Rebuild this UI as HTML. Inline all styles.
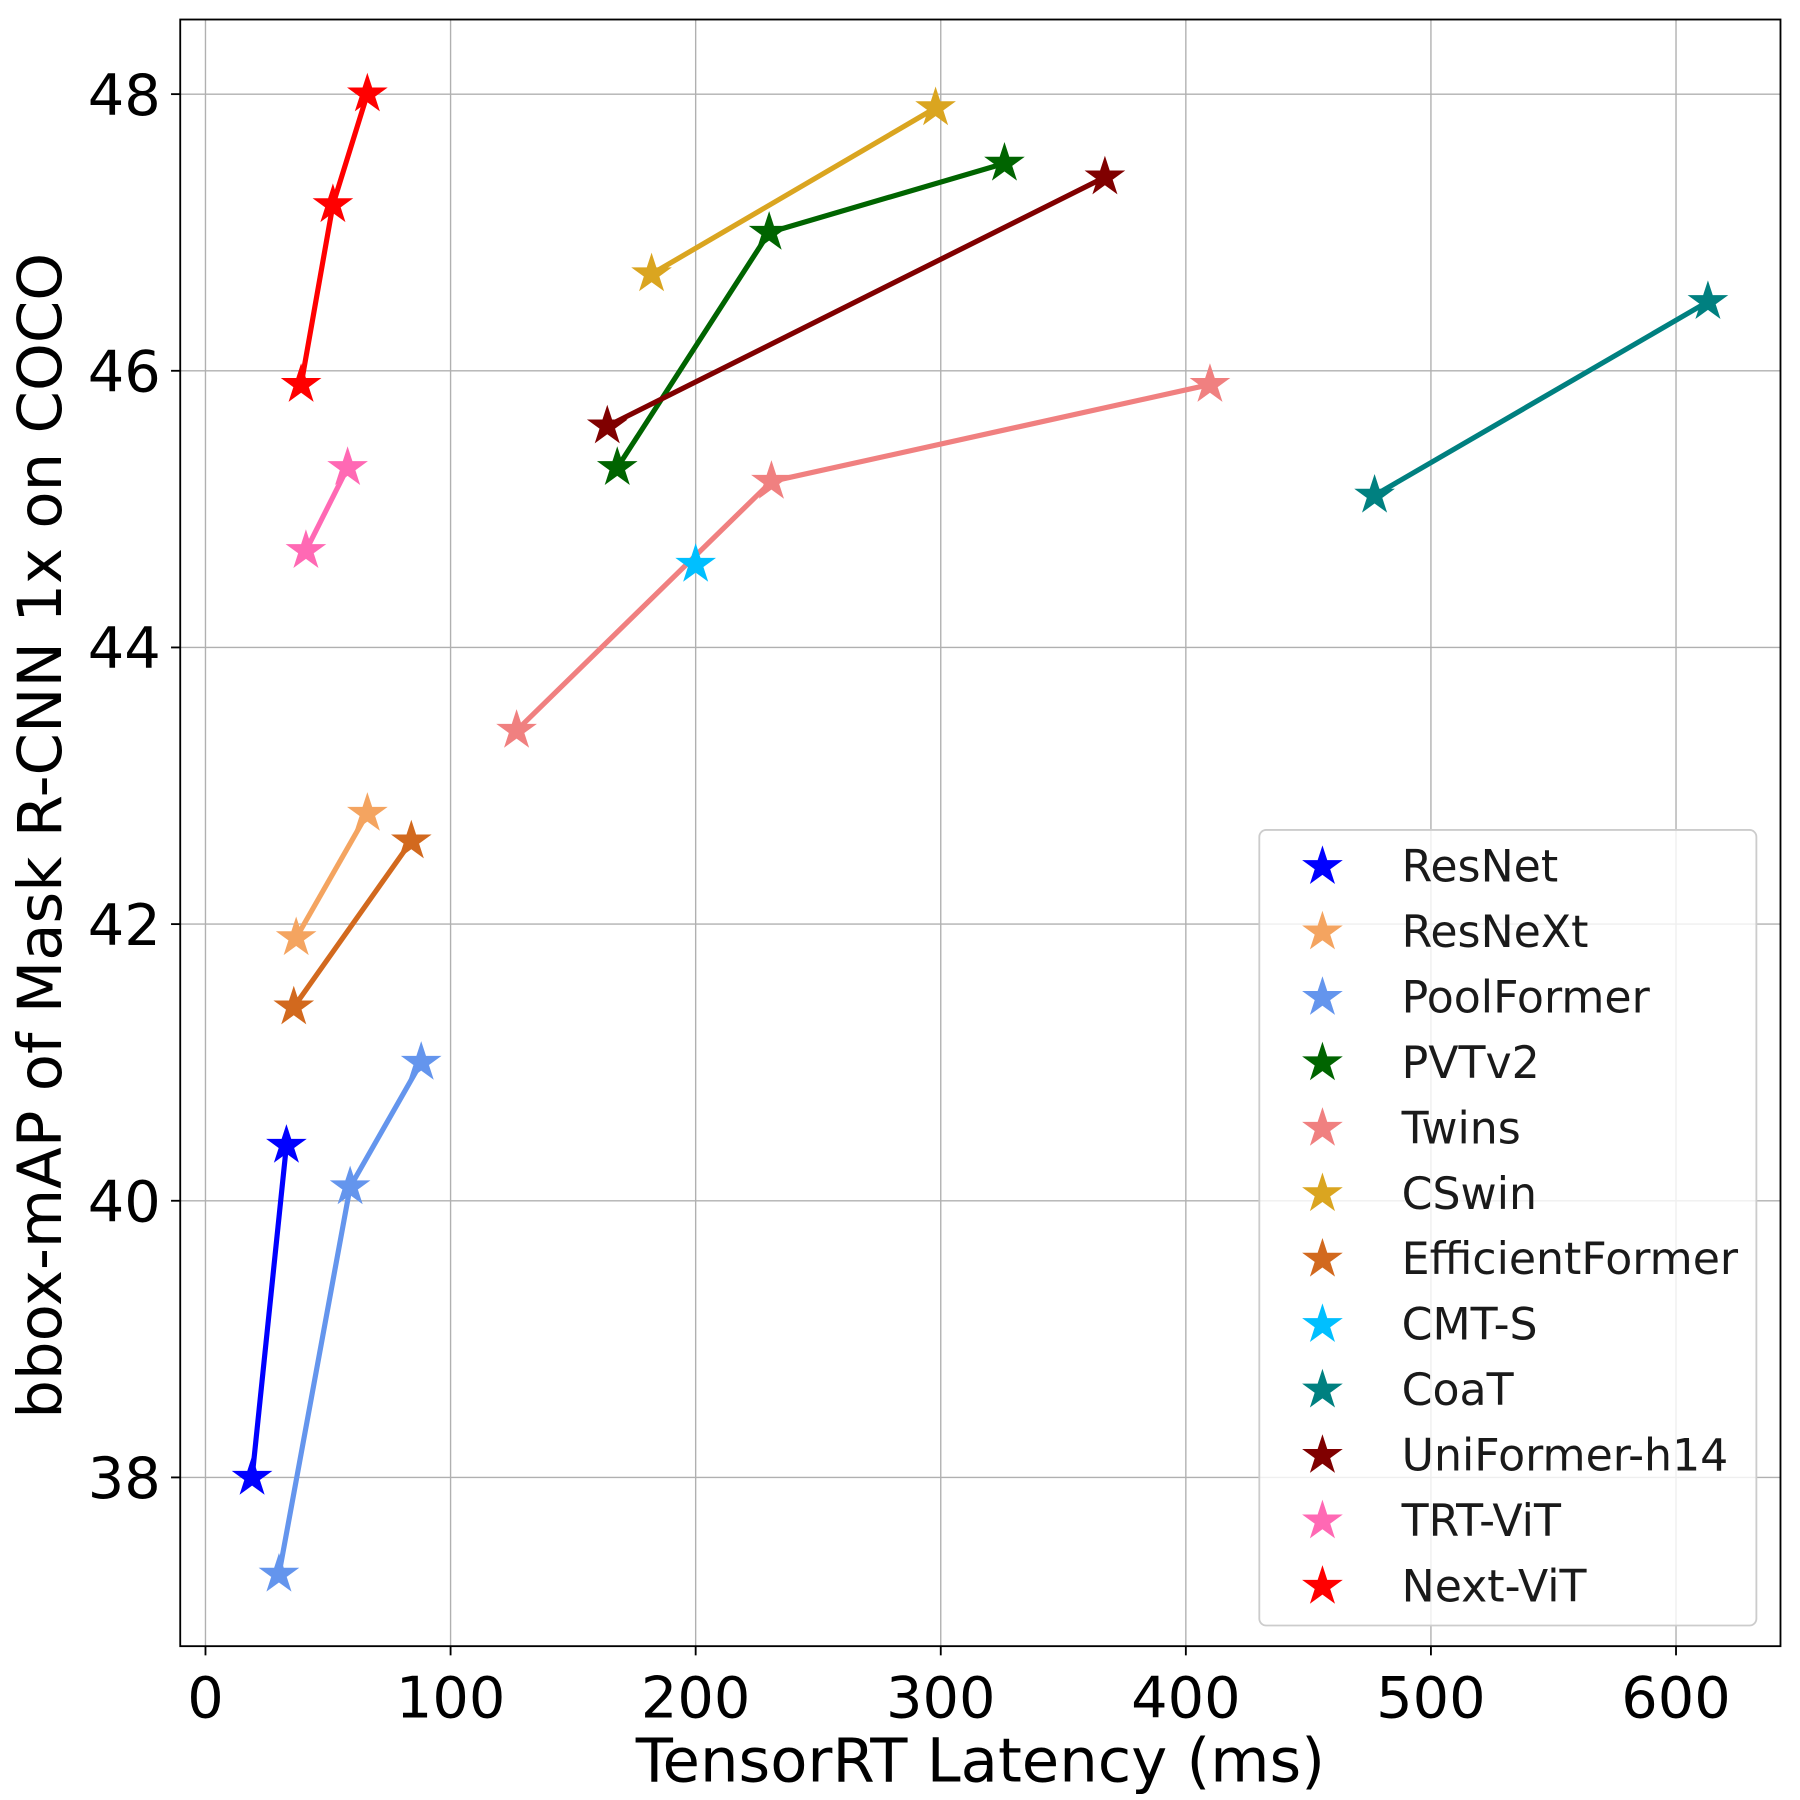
<!DOCTYPE html>
<html><head><meta charset="utf-8"><style>
html,body{margin:0;padding:0;background:#fff;}
svg{display:block;font-family:"DejaVu Sans","Liberation Sans",sans-serif;}
</style></head><body>
<svg width="1800" height="1800" viewBox="0 0 1568 1568" xmlns="http://www.w3.org/2000/svg">
<defs>
<symbol id="s" viewBox="-18 -18 36 36" overflow="visible">
<path d="M0,-17 L3.82,-5.26 16.17,-5.25 6.18,2.01 9.99,13.75 0,6.5 -9.99,13.75 -6.18,2.01 -16.17,-5.25 -3.82,-5.26 Z" fill="currentColor" stroke="currentColor" stroke-width="1"/>
</symbol>
</defs>
<rect width="1568" height="1568" fill="#fff"/>
<g stroke="#b0b0b0" stroke-width="1.2">
<line x1="179" y1="17" x2="179" y2="1434"/><line x1="392.5" y1="17" x2="392.5" y2="1434"/>
<line x1="606" y1="17" x2="606" y2="1434"/><line x1="819.5" y1="17" x2="819.5" y2="1434"/>
<line x1="1033" y1="17" x2="1033" y2="1434"/><line x1="1246.5" y1="17" x2="1246.5" y2="1434"/>
<line x1="1460" y1="17" x2="1460" y2="1434"/>
<line x1="157" y1="82" x2="1551" y2="82"/><line x1="157" y1="323" x2="1551" y2="323"/>
<line x1="157" y1="564" x2="1551" y2="564"/><line x1="157" y1="805" x2="1551" y2="805"/>
<line x1="157" y1="1046" x2="1551" y2="1046"/><line x1="157" y1="1287" x2="1551" y2="1287"/>
</g>
<g fill="none" stroke-width="4.5" stroke-linejoin="round">
<polyline stroke="#0000ff" points="219.6,1287 249.5,997.8"/>
<polyline stroke="#f4a460" points="258,817 320,708.6"/>
<polyline stroke="#6495ed" points="243,1371.4 305,1034 366.9,925.5"/>
<polyline stroke="#006400" points="537.7,407.4 670,202.5 875,142.3"/>
<polyline stroke="#f08080" points="450,636.3 672,419.4 1054,335"/>
<polyline stroke="#daa520" points="567.6,238.7 815,94"/>
<polyline stroke="#d2691e" points="255.9,877.3 358.3,732.7"/>
<polyline stroke="#008080" points="1197.4,431.5 1487.8,262.8"/>
<polyline stroke="#800000" points="529,371.2 962.5,154.3"/>
<polyline stroke="#ff69b4" points="266.5,479.7 302.8,407.4"/>
<polyline stroke="#ff0000" points="262.3,335 290,178.4 320,82"/>
</g>
<g>
<g color="#0000ff"><use href="#s" x="201.6" y="1269" width="36" height="36"/><use href="#s" x="231.5" y="979.8" width="36" height="36"/></g>
<g color="#f4a460"><use href="#s" x="240" y="799" width="36" height="36"/><use href="#s" x="302" y="690.6" width="36" height="36"/></g>
<g color="#6495ed"><use href="#s" x="225" y="1353.4" width="36" height="36"/><use href="#s" x="287" y="1016" width="36" height="36"/><use href="#s" x="348.9" y="907.5" width="36" height="36"/></g>
<g color="#006400"><use href="#s" x="519.7" y="389.4" width="36" height="36"/><use href="#s" x="652" y="184.5" width="36" height="36"/><use href="#s" x="857" y="124.3" width="36" height="36"/></g>
<g color="#f08080"><use href="#s" x="432" y="618.3" width="36" height="36"/><use href="#s" x="654" y="401.4" width="36" height="36"/><use href="#s" x="1036" y="317" width="36" height="36"/></g>
<g color="#daa520"><use href="#s" x="549.6" y="220.7" width="36" height="36"/><use href="#s" x="797" y="76" width="36" height="36"/></g>
<g color="#d2691e"><use href="#s" x="237.9" y="859.3" width="36" height="36"/><use href="#s" x="340.3" y="714.7" width="36" height="36"/></g>
<g color="#00bfff"><use href="#s" x="588" y="473.7" width="36" height="36"/></g>
<g color="#008080"><use href="#s" x="1179.4" y="413.5" width="36" height="36"/><use href="#s" x="1469.8" y="244.8" width="36" height="36"/></g>
<g color="#800000"><use href="#s" x="511" y="353.2" width="36" height="36"/><use href="#s" x="944.5" y="136.3" width="36" height="36"/></g>
<g color="#ff69b4"><use href="#s" x="248.5" y="461.7" width="36" height="36"/><use href="#s" x="284.8" y="389.4" width="36" height="36"/></g>
<g color="#ff0000"><use href="#s" x="244.3" y="317" width="36" height="36"/><use href="#s" x="272" y="160.4" width="36" height="36"/><use href="#s" x="302" y="64" width="36" height="36"/></g>
</g>
<rect x="157" y="17" width="1394" height="1417" fill="none" stroke="#000" stroke-width="1.6"/>
<g stroke="#000" stroke-width="1.6">
<line x1="179" y1="1434" x2="179" y2="1442"/><line x1="392.5" y1="1434" x2="392.5" y2="1442"/>
<line x1="606" y1="1434" x2="606" y2="1442"/><line x1="819.5" y1="1434" x2="819.5" y2="1442"/>
<line x1="1033" y1="1434" x2="1033" y2="1442"/><line x1="1246.5" y1="1434" x2="1246.5" y2="1442"/>
<line x1="1460" y1="1434" x2="1460" y2="1442"/>
<line x1="149" y1="82" x2="157" y2="82"/><line x1="149" y1="323" x2="157" y2="323"/>
<line x1="149" y1="564" x2="157" y2="564"/><line x1="149" y1="805" x2="157" y2="805"/>
<line x1="149" y1="1046" x2="157" y2="1046"/><line x1="149" y1="1287" x2="157" y2="1287"/>
</g>
<g font-size="50" fill="#000" text-anchor="middle">
<text x="179" y="1496">0</text><text x="392.5" y="1496">100</text><text x="606" y="1496">200</text>
<text x="819.5" y="1496">300</text><text x="1033" y="1496">400</text><text x="1246.5" y="1496">500</text><text x="1460" y="1496">600</text>
</g>
<g font-size="50" fill="#000" text-anchor="end">
<text x="140" y="100">48</text><text x="140" y="341">46</text><text x="140" y="582">44</text>
<text x="140" y="823">42</text><text x="140" y="1064">40</text><text x="140" y="1305">38</text>
</g>
<text x="854" y="1552" font-size="53" text-anchor="middle">TensorRT Latency (ms)</text>
<text transform="translate(53,728) rotate(-90)" font-size="53" text-anchor="middle">bbox-mAP of Mask R-CNN 1x on COCO</text>
<rect x="1097" y="723" width="433" height="693" rx="6" fill="#fff" fill-opacity="0.8" stroke="#cccccc" stroke-width="1.6"/>
<g font-size="38.5" fill="#1a1a1a">
<use href="#s" x="1134" y="737" width="36" height="36" color="#0000ff"/><text x="1221" y="768">ResNet</text>
<use href="#s" x="1134" y="794" width="36" height="36" color="#f4a460"/><text x="1221" y="825">ResNeXt</text>
<use href="#s" x="1134" y="851" width="36" height="36" color="#6495ed"/><text x="1221" y="882">PoolFormer</text>
<use href="#s" x="1134" y="908" width="36" height="36" color="#006400"/><text x="1221" y="939">PVTv2</text>
<use href="#s" x="1134" y="965" width="36" height="36" color="#f08080"/><text x="1221" y="996">Twins</text>
<use href="#s" x="1134" y="1022" width="36" height="36" color="#daa520"/><text x="1221" y="1053">CSwin</text>
<use href="#s" x="1134" y="1079" width="36" height="36" color="#d2691e"/><text x="1221" y="1110">EfficientFormer</text>
<use href="#s" x="1134" y="1136" width="36" height="36" color="#00bfff"/><text x="1221" y="1167">CMT-S</text>
<use href="#s" x="1134" y="1193" width="36" height="36" color="#008080"/><text x="1221" y="1224">CoaT</text>
<use href="#s" x="1134" y="1250" width="36" height="36" color="#800000"/><text x="1221" y="1281">UniFormer-h14</text>
<use href="#s" x="1134" y="1307" width="36" height="36" color="#ff69b4"/><text x="1221" y="1338">TRT-ViT</text>
<use href="#s" x="1134" y="1364" width="36" height="36" color="#ff0000"/><text x="1221" y="1395">Next-ViT</text>
</g>
</svg>
</body></html>
